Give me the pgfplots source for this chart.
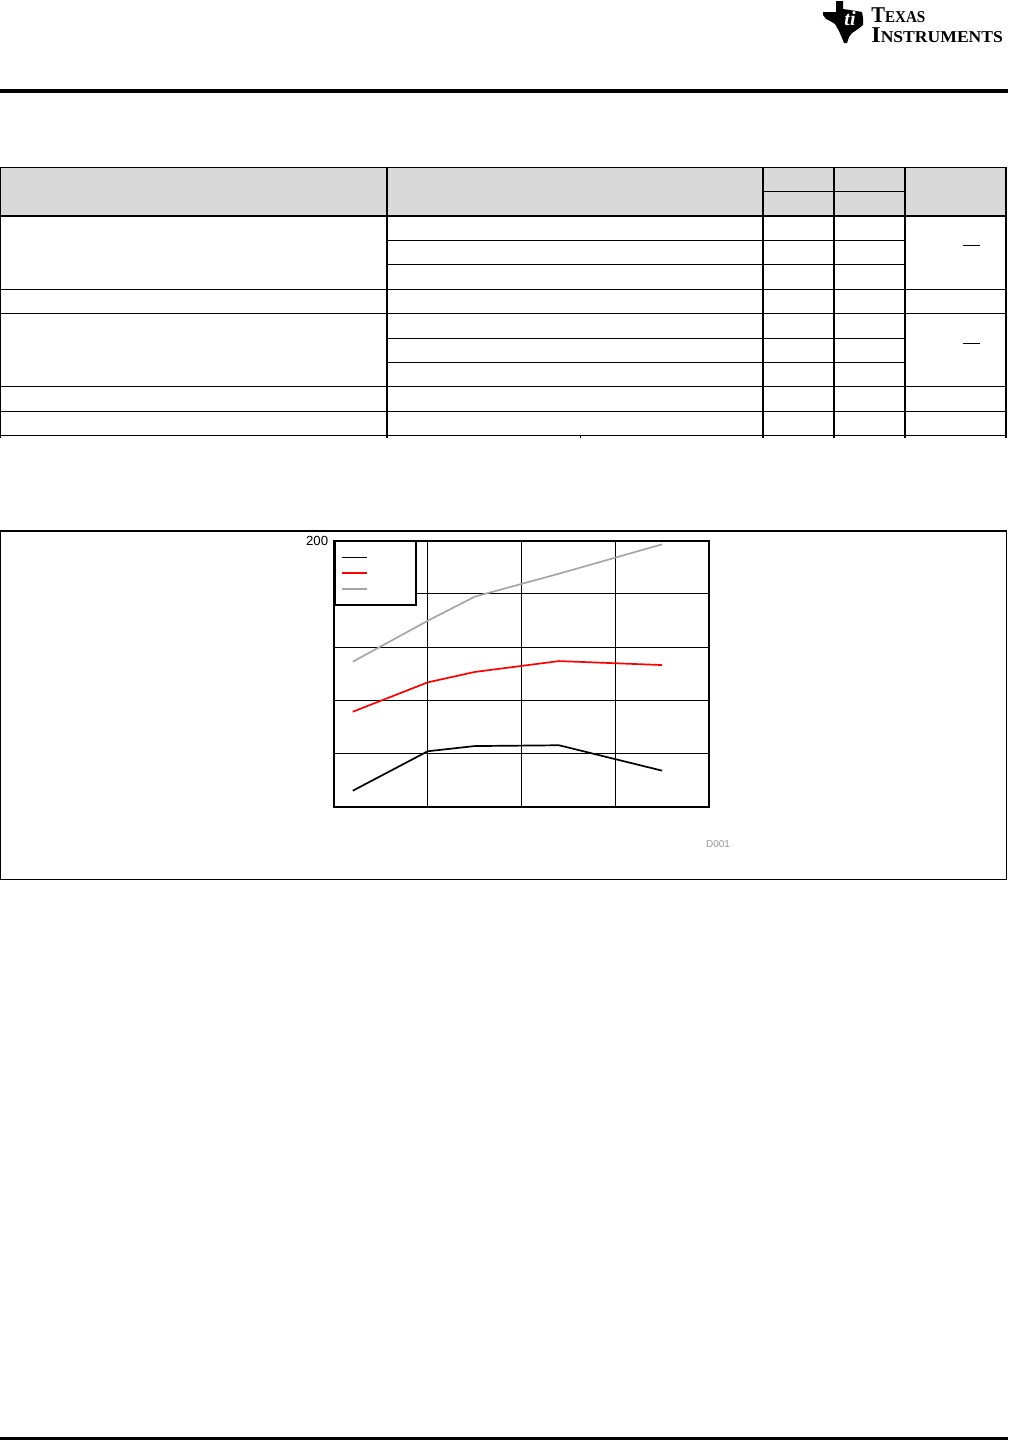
\documentclass[border=0pt]{standalone}
\usepackage{fontspec}
\setmainfont{Liberation Sans}
\newfontfamily\logofont{Liberation Serif}
\usepackage{pgfplots}
\pgfplotsset{compat=1.18}
\definecolor{hdrgray}{RGB}{217,217,217}
\definecolor{tigray}{RGB}{166,166,166}
\definecolor{tired}{RGB}{255,0,0}
\definecolor{idgray}{RGB}{150,150,150}

\begin{document}
% 1 unit = 1 pixel of the 1008x1440 page, y going down
\begin{tikzpicture}[x=0.5pt,y=-0.5pt]
\useasboundingbox (0,0) rectangle (1008,1440);

% --- page header: logo and rule
\fill[black] (823,12) -- (836,12) -- (836,1) -- (843,1) -- (843,9) -- (850,10)
  -- (856,11) -- (862,12) -- (863,18) -- (863,25) -- (858,29) -- (852,33)
  -- (849,37) -- (847,43) -- (844,43) -- (842,38) -- (839,31) -- (835,24)
  -- (830,21) -- (826,19) -- (823,15) -- cycle;
\node[white, font=\logofont\bfseries\itshape\fontsize{10}{10}\selectfont] at (850,19) {ti};
\node[anchor=base west, inner sep=0pt, xscale=0.91] at (871,22)
  {\logofont\bfseries{\fontsize{11.3}{11}\selectfont T}{\fontsize{8.3}{8}\selectfont EXAS}};
\node[anchor=base west, inner sep=0pt, xscale=1.06] at (871,42)
  {\logofont\bfseries{\fontsize{11.3}{11}\selectfont I}{\fontsize{8.3}{8}\selectfont NSTRUMENTS}};
\draw[line width=2pt] (0,91.3) -- (1008,91.3);
\draw[line width=1.6pt] (0,1438.5) -- (1008,1438.5);

% --- table
\fill[hdrgray] (0,167.3) rectangle (1006,216);
\begin{scope}[line width=0.65pt]
  \foreach \yy in {167.3,216,289.3,313.7,386.7,411.3,435.7}
    \draw (0,\yy) -- (1006,\yy);
  \foreach \yy in {240.3,264.3,338.3,362.3}
    \draw (387,\yy) -- (905,\yy);
  \draw (763,191.7) -- (905,191.7);
  \foreach \xx in {0.4,387,763,834,905,1006}
    \draw (\xx,167.3) -- (\xx,437.5);
  \draw (580.5,435.7) -- (580.5,437.5);
\end{scope}
\draw[line width=0.5pt] (962.5,245.3) -- (980,245.3);
\draw[line width=0.5pt] (962.5,343) -- (980,343);

% --- figure frame
\draw[line width=0.65pt] (0.4,531) rectangle (1006.5,879.5);
\node[text=idgray, font=\fontsize{5}{5}\selectfont] at (718,844) {D001};

% --- chart
\coordinate (axpos) at (334,806.7);
\begin{axis}[
    at={(axpos)}, anchor=south west,
    scale only axis,
    width=187.5pt, height=133pt,
    xmin=-50, xmax=150,
    ymin=0, ymax=200,
    xtick={-50,0,50,100,150},
    ytick={0,40,80,120,160,200},
    xticklabels={},
    yticklabels={,,,,,200},
    tick style={draw=none},
    grid=major,
    grid style={black, line width=0.45pt},
    axis line style={line width=0.85pt},
    /pgf/number format/assume math mode=true,
    ticklabel style={font=\fontsize{6.6}{7}\selectfont},
    yticklabel style={xshift=0.6pt},
    legend style={at={(0,1)}, anchor=north west, draw=black,
      line width=0.85pt, inner xsep=3pt, inner ysep=4pt,
      row sep=0pt, font=\fontsize{6.6}{7.75}\selectfont,
      nodes={inner sep=0pt, minimum height=7.9pt}},
    legend image code/.code={\draw[#1] (0pt,0pt) -- (12.7pt,0pt);},
    legend cell align=left,
]
\addplot[black, line width=0.85pt] coordinates {
    (-40,12.0) (0,41.7) (25,45.6) (70,46.2) (125,27.1)
};
\addplot[tired, line width=0.85pt] coordinates {
    (-40,71.4) (0,93.5) (25,101.3) (70,109.5) (125,106.5)
};
\addplot[tigray, line width=0.85pt] coordinates {
    (-40,109.0) (0,139.8) (25,157.9) (70,175.2) (125,197.3)
};
\legend{\makebox[21pt]{},\makebox[21pt]{},\makebox[21pt]{}}
\end{axis}
\end{tikzpicture}
\end{document}
